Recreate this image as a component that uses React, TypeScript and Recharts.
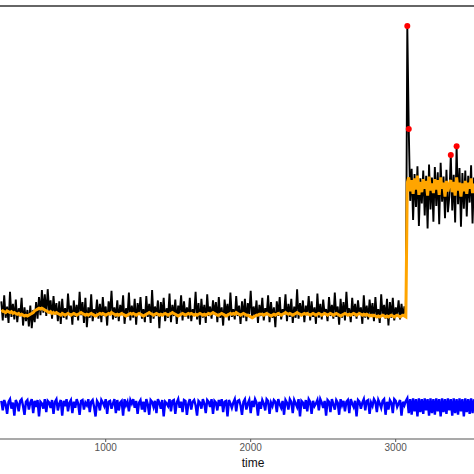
import { LineChart, Line, XAxis, YAxis, ReferenceLine, ReferenceDot, Label } from "recharts";

// sampling grid: one reading every 10 time units, 280 .. 3540
const T_START = 280;
const T_STEP = 10;

// raw signal (black)
const signal = [
  15.9, 13.7, 16.6, 14.0, 15.3, 13.4, 17.0, 14.1, 15.6, 13.8,
  16.1, 13.5, 15.1, 14.2, 16.3, 13.1, 15.2, 13.6, 14.9, 13.0,
  15.4, 12.8, 14.9, 13.5, 15.8, 13.9, 16.4, 14.3, 17.2, 14.6,
  16.7, 14.2, 17.3, 14.8, 16.0, 13.9, 16.5, 14.4, 15.7, 13.6,
  15.9, 13.3, 16.2, 14.0, 15.1, 13.8, 16.8, 14.5, 15.4, 13.2,
  16.0, 14.1, 15.5, 13.7, 17.0, 14.3, 15.8, 13.4, 16.3, 12.9,
  15.2, 14.0, 16.7, 13.6, 15.0, 14.2, 16.1, 13.9, 15.6, 13.5,
  16.4, 14.2, 15.3, 13.1, 15.9, 14.4, 17.1, 13.8, 15.2, 14.0,
  16.0, 13.6, 15.5, 14.3, 16.6, 13.3, 15.1, 14.1, 16.9, 13.7,
  15.4, 14.0, 16.2, 13.2, 15.7, 14.4, 16.4, 13.9, 15.0, 13.5,
  16.5, 14.1, 15.6, 13.4, 17.2, 13.9, 15.3, 14.2, 16.0, 12.8,
  15.8, 14.3, 16.3, 13.6, 15.1, 14.0, 16.8, 13.5, 15.5, 14.2,
  16.1, 13.3, 15.4, 14.4, 16.6, 13.7, 15.9, 14.1, 15.2, 13.9,
  16.3, 13.6, 15.0, 14.3, 17.0, 13.8, 15.7, 13.2, 16.2, 14.0,
  15.5, 13.4, 16.7, 14.2, 15.3, 13.9, 16.0, 14.4, 15.8, 13.5,
  16.4, 14.0, 15.2, 13.1, 16.1, 14.3, 15.6, 13.7, 16.9, 14.1,
  15.0, 13.8, 16.5, 14.2, 15.4, 13.3, 15.9, 14.0, 16.2, 13.6,
  15.7, 14.4, 17.1, 13.9, 15.3, 14.1, 16.0, 13.4, 15.5, 14.2,
  16.3, 13.7, 15.1, 14.3, 16.6, 13.5, 15.8, 14.0, 15.2, 12.9,
  15.9, 14.2, 16.4, 13.8, 15.0, 14.4, 16.7, 13.6, 15.6, 14.1,
  16.2, 13.4, 15.3, 14.0, 17.3, 13.9, 15.7, 14.2, 16.0, 13.5,
  15.4, 14.3, 16.5, 13.7, 15.9, 14.1, 15.2, 13.3, 16.8, 14.0,
  15.6, 13.8, 16.1, 14.4, 15.0, 13.6, 16.4, 14.2, 15.5, 13.9,
  16.9, 14.1, 15.3, 13.2, 16.2, 14.0, 15.8, 13.7, 17.0, 14.3,
  15.1, 13.5, 16.3, 14.2, 15.6, 13.9, 16.0, 14.4, 15.2, 13.3,
  16.6, 14.0, 15.4, 13.8, 16.1, 14.3, 15.7, 13.6, 16.4, 14.1,
  15.0, 13.4, 16.7, 14.2, 15.5, 13.9, 16.2, 13.1, 15.8, 14.0,
  16.3, 13.7, 15.2, 14.3, 16.0, 13.8, 15.6, 14.1, 15.3, 14.4,
  47.7, 35.8, 27.5, 31.2, 25.3, 30.6, 26.8, 31.5, 24.6, 30.1,
  27.2, 31.0, 25.8, 30.4, 24.3, 31.7, 26.5, 30.2, 25.1, 31.4,
  26.9, 30.8, 24.8, 31.9, 27.4, 30.3, 25.5, 31.1, 26.2, 28.0,
  32.8, 26.4, 30.5, 25.0, 33.8, 27.1, 31.3, 24.5, 30.7, 26.6,
  31.0, 25.7, 30.4, 27.3, 31.6, 24.9, 30.2,
];

// smoothed level (orange)
const smooth = [
  14.7, 14.8, 14.7, 14.6, 14.8, 14.7, 14.6, 14.7, 14.5, 14.6,
  14.5, 14.4, 14.5, 14.3, 14.4, 14.3, 14.2, 14.3, 14.2, 14.3,
  14.4, 14.5, 14.6, 14.8, 14.9, 15.0, 15.1, 15.0, 15.1, 15.0,
  14.9, 14.8, 14.7, 14.6, 14.7, 14.5, 14.6, 14.5, 14.6, 14.5,
  14.4, 14.3, 14.5, 14.4, 14.3, 14.4, 14.5, 14.4, 14.3, 14.4,
  14.5, 14.4, 14.3, 14.4, 14.5, 14.6, 14.5, 14.4, 14.3, 14.4,
  14.3, 14.4, 14.5, 14.4, 14.3, 14.2, 14.3, 14.4, 14.5, 14.4,
  14.5, 14.4, 14.3, 14.4, 14.5, 14.4, 14.6, 14.5, 14.4, 14.3,
  14.4, 14.3, 14.4, 14.5, 14.4, 14.3, 14.2, 14.3, 14.4, 14.5,
  14.4, 14.5, 14.4, 14.3, 14.4, 14.5, 14.4, 14.3, 14.2, 14.3,
  14.4, 14.5, 14.6, 14.5, 14.4, 14.3, 14.4, 14.5, 14.4, 14.3,
  14.4, 14.3, 14.4, 14.5, 14.4, 14.3, 14.4, 14.5, 14.6, 14.5,
  14.4, 14.3, 14.2, 14.3, 14.4, 14.5, 14.4, 14.3, 14.4, 14.5,
  14.4, 14.5, 14.4, 14.3, 14.4, 14.3, 14.4, 14.5, 14.4, 14.3,
  14.4, 14.3, 14.4, 14.5, 14.4, 14.5, 14.6, 14.5, 14.4, 14.3,
  14.3, 14.4, 14.5, 14.4, 14.3, 14.2, 14.3, 14.4, 14.5, 14.4,
  14.5, 14.4, 14.6, 14.5, 14.4, 14.3, 14.4, 14.5, 14.4, 14.3,
  14.3, 14.2, 14.1, 14.0, 14.1, 14.2, 14.3, 14.3, 14.4, 14.4,
  14.4, 14.3, 14.4, 14.5, 14.4, 14.3, 14.2, 14.3, 14.4, 14.3,
  14.4, 14.5, 14.4, 14.3, 14.4, 14.5, 14.6, 14.5, 14.4, 14.5,
  14.4, 14.3, 14.4, 14.5, 14.6, 14.5, 14.4, 14.3, 14.4, 14.5,
  14.4, 14.5, 14.4, 14.3, 14.4, 14.5, 14.4, 14.3, 14.4, 14.5,
  14.4, 14.3, 14.4, 14.5, 14.4, 14.3, 14.4, 14.5, 14.4, 14.3,
  14.4, 14.5, 14.4, 14.3, 14.2, 14.3, 14.4, 14.5, 14.4, 14.3,
  14.4, 14.3, 14.4, 14.5, 14.4, 14.3, 14.4, 14.5, 14.4, 14.3,
  14.4, 14.3, 14.4, 14.3, 14.2, 14.3, 14.2, 14.3, 14.2, 14.1,
  14.2, 14.1, 14.2, 14.3, 14.2, 14.1, 14.2, 14.1, 14.2, 14.3,
  14.2, 14.1, 14.2, 14.3, 14.2, 14.1, 14.2, 14.3, 14.2, 14.1,
  29.6, 30.2, 28.6, 29.9, 28.3, 30.1, 28.8, 30.4, 28.2, 29.7,
  28.5, 30.0, 28.9, 29.8, 28.1, 30.3, 28.7, 29.5, 28.4, 30.0,
  28.8, 29.9, 28.2, 30.2, 28.9, 29.6, 28.0, 29.8, 28.6, 29.4,
  29.9, 28.5, 29.7, 28.1, 30.2, 28.7, 29.6, 28.0, 29.5, 28.6,
  29.8, 28.3, 29.6, 28.9, 30.1, 28.4, 29.5,
];

// second channel (blue)
const channel = [
  4.4, 3.3, 4.5, 4.0, 2.9, 4.3, 4.6, 3.5, 4.2, 2.7,
  4.5, 4.1, 3.2, 4.4, 4.6, 3.8, 2.8, 4.3, 4.5, 3.4,
  4.2, 4.6, 3.0, 4.4, 3.7, 4.5, 2.6, 4.3, 4.1, 3.5,
  4.6, 3.1, 4.4, 4.2, 3.6, 4.5, 2.9, 4.3, 4.6, 3.3,
  4.1, 4.5, 2.7, 4.4, 3.8, 4.6, 3.2, 4.2, 4.5, 3.0,
  4.3, 3.6, 4.6, 4.1, 2.8, 4.4, 4.5, 3.4, 4.2, 3.9,
  4.6, 3.1, 4.3, 4.5, 3.7, 2.6, 4.4, 4.1, 3.3, 4.5,
  4.2, 3.8, 4.6, 2.9, 4.3, 4.4, 3.5, 4.1, 4.6, 3.0,
  4.5, 3.3, 4.2, 4.4, 2.7, 4.6, 3.9, 4.3, 3.2, 4.5,
  4.1, 4.6, 3.6, 4.4, 2.9, 4.2, 4.5, 3.4, 4.3, 3.1,
  4.6, 4.0, 2.8, 4.5, 4.3, 3.7, 4.4, 3.0, 4.6, 4.2,
  3.5, 4.5, 2.6, 4.3, 4.1, 3.8, 4.6, 3.2, 4.4, 4.5,
  2.9, 4.2, 4.6, 3.6, 4.3, 3.1, 4.5, 4.4, 2.8, 4.1,
  4.6, 3.4, 4.3, 4.5, 3.9, 2.7, 4.4, 4.2, 3.5, 4.6,
  4.1, 3.0, 4.5, 4.3, 3.7, 4.6, 2.9, 4.4, 4.2, 3.3,
  4.5, 3.8, 4.6, 3.1, 4.3, 4.4, 2.6, 4.5, 4.1, 3.6,
  4.2, 4.6, 3.2, 4.4, 4.5, 3.9, 2.8, 4.3, 4.6, 3.4,
  4.1, 4.5, 3.0, 4.4, 3.7, 4.6, 4.2, 2.7, 4.3, 3.5,
  4.5, 4.1, 3.3, 4.6, 4.4, 2.9, 4.2, 3.8, 4.5, 4.3,
  3.1, 4.6, 4.0, 3.6, 4.4, 2.8, 4.5, 4.2, 3.4, 4.6,
  4.3, 3.0, 4.5, 4.1, 3.7, 4.6, 2.6, 4.4, 4.2, 3.5,
  4.5, 3.2, 4.6, 4.3, 2.9, 4.4, 3.8, 4.1, 4.5, 3.3,
  4.6, 4.2, 3.6, 4.4, 2.7, 4.5, 4.3, 3.1, 4.6, 4.0,
  3.4, 4.5, 4.2, 2.8, 4.6, 3.9, 4.4, 3.2, 4.3, 4.5,
  3.0, 4.6, 4.1, 3.7, 4.4, 2.6, 4.5, 4.3, 3.5, 4.2,
  4.6, 3.3, 4.4, 4.5, 2.9, 4.2, 3.8, 4.6, 4.3, 3.1,
  4.5, 4.1, 3.6, 4.4, 4.6, 2.8, 4.3, 3.4, 4.5, 4.2,
  3.0, 4.6, 4.4, 3.7, 4.1, 4.5, 2.7, 4.3, 3.9, 4.4,
  4.7, 3.0, 4.6, 2.8, 4.7, 3.2, 4.6, 2.6, 4.7, 3.1,
  4.6, 2.9, 4.7, 3.3, 4.6, 2.7, 4.7, 3.0, 4.6, 2.8,
  4.7, 3.2, 4.6, 2.6, 4.7, 3.1, 4.6, 2.9, 4.7, 3.3,
  4.6, 2.7, 4.7, 3.0, 4.6, 2.8, 4.7, 3.2, 4.6, 2.6,
  4.7, 3.1, 4.6, 2.9, 4.7, 3.0, 4.6,
];

// flagged outliers (red)
const alertTimes = [3080, 3090, 3380, 3420];
const alertValues = [47.7, 35.8, 32.8, 33.8];

const xTicks = [1000, 2000, 3000];

const rows = signal.map((v, i) => ({
  time: T_START + i * T_STEP,
  signal: v,
  smooth: smooth[i],
  channel: channel[i],
}));

const FONT = '"Liberation Sans", Arial, Helvetica, sans-serif';

export default function App() {
  return (
    <div style={{ position: "fixed", left: 0, top: 0, width: 474, height: 474, background: "#fff" }}>
      <LineChart width={474} height={474} data={rows} margin={{ top: 6, right: 0, left: 0, bottom: 0 }}>
        <XAxis
          dataKey="time"
          type="number"
          domain={[271, 3540]}
          allowDataOverflow
          ticks={xTicks}
          height={35}
          tickSize={3}
          axisLine={{ stroke: "#555", strokeWidth: 1.2 }}
          tickLine={{ stroke: "#555" }}
          tick={{ fill: "#555", fontSize: 10, fontFamily: FONT }}
        >
          <Label value="time" position="insideBottom" offset={7} dx={16} fill="#111" fontSize={12} fontFamily={FONT} />
        </XAxis>
        <YAxis hide domain={[0, 50]} allowDataOverflow />
        <ReferenceLine y={50} stroke="#333" strokeWidth={1.3} />
        <Line type="linear" dataKey="channel" stroke="#0000ff" strokeWidth={2.4} dot={false} isAnimationActive={false} />
        <Line type="linear" dataKey="signal" stroke="#000" strokeWidth={1.9} dot={false} isAnimationActive={false} />
        <Line type="linear" dataKey="smooth" stroke="#ffa500" strokeWidth={3} dot={false} isAnimationActive={false} />
        {alertTimes.map((t, i) => (
          <ReferenceDot key={t} x={t} y={alertValues[i]} r={3} fill="#ff0000" stroke="none" />
        ))}
      </LineChart>
    </div>
  );
}
